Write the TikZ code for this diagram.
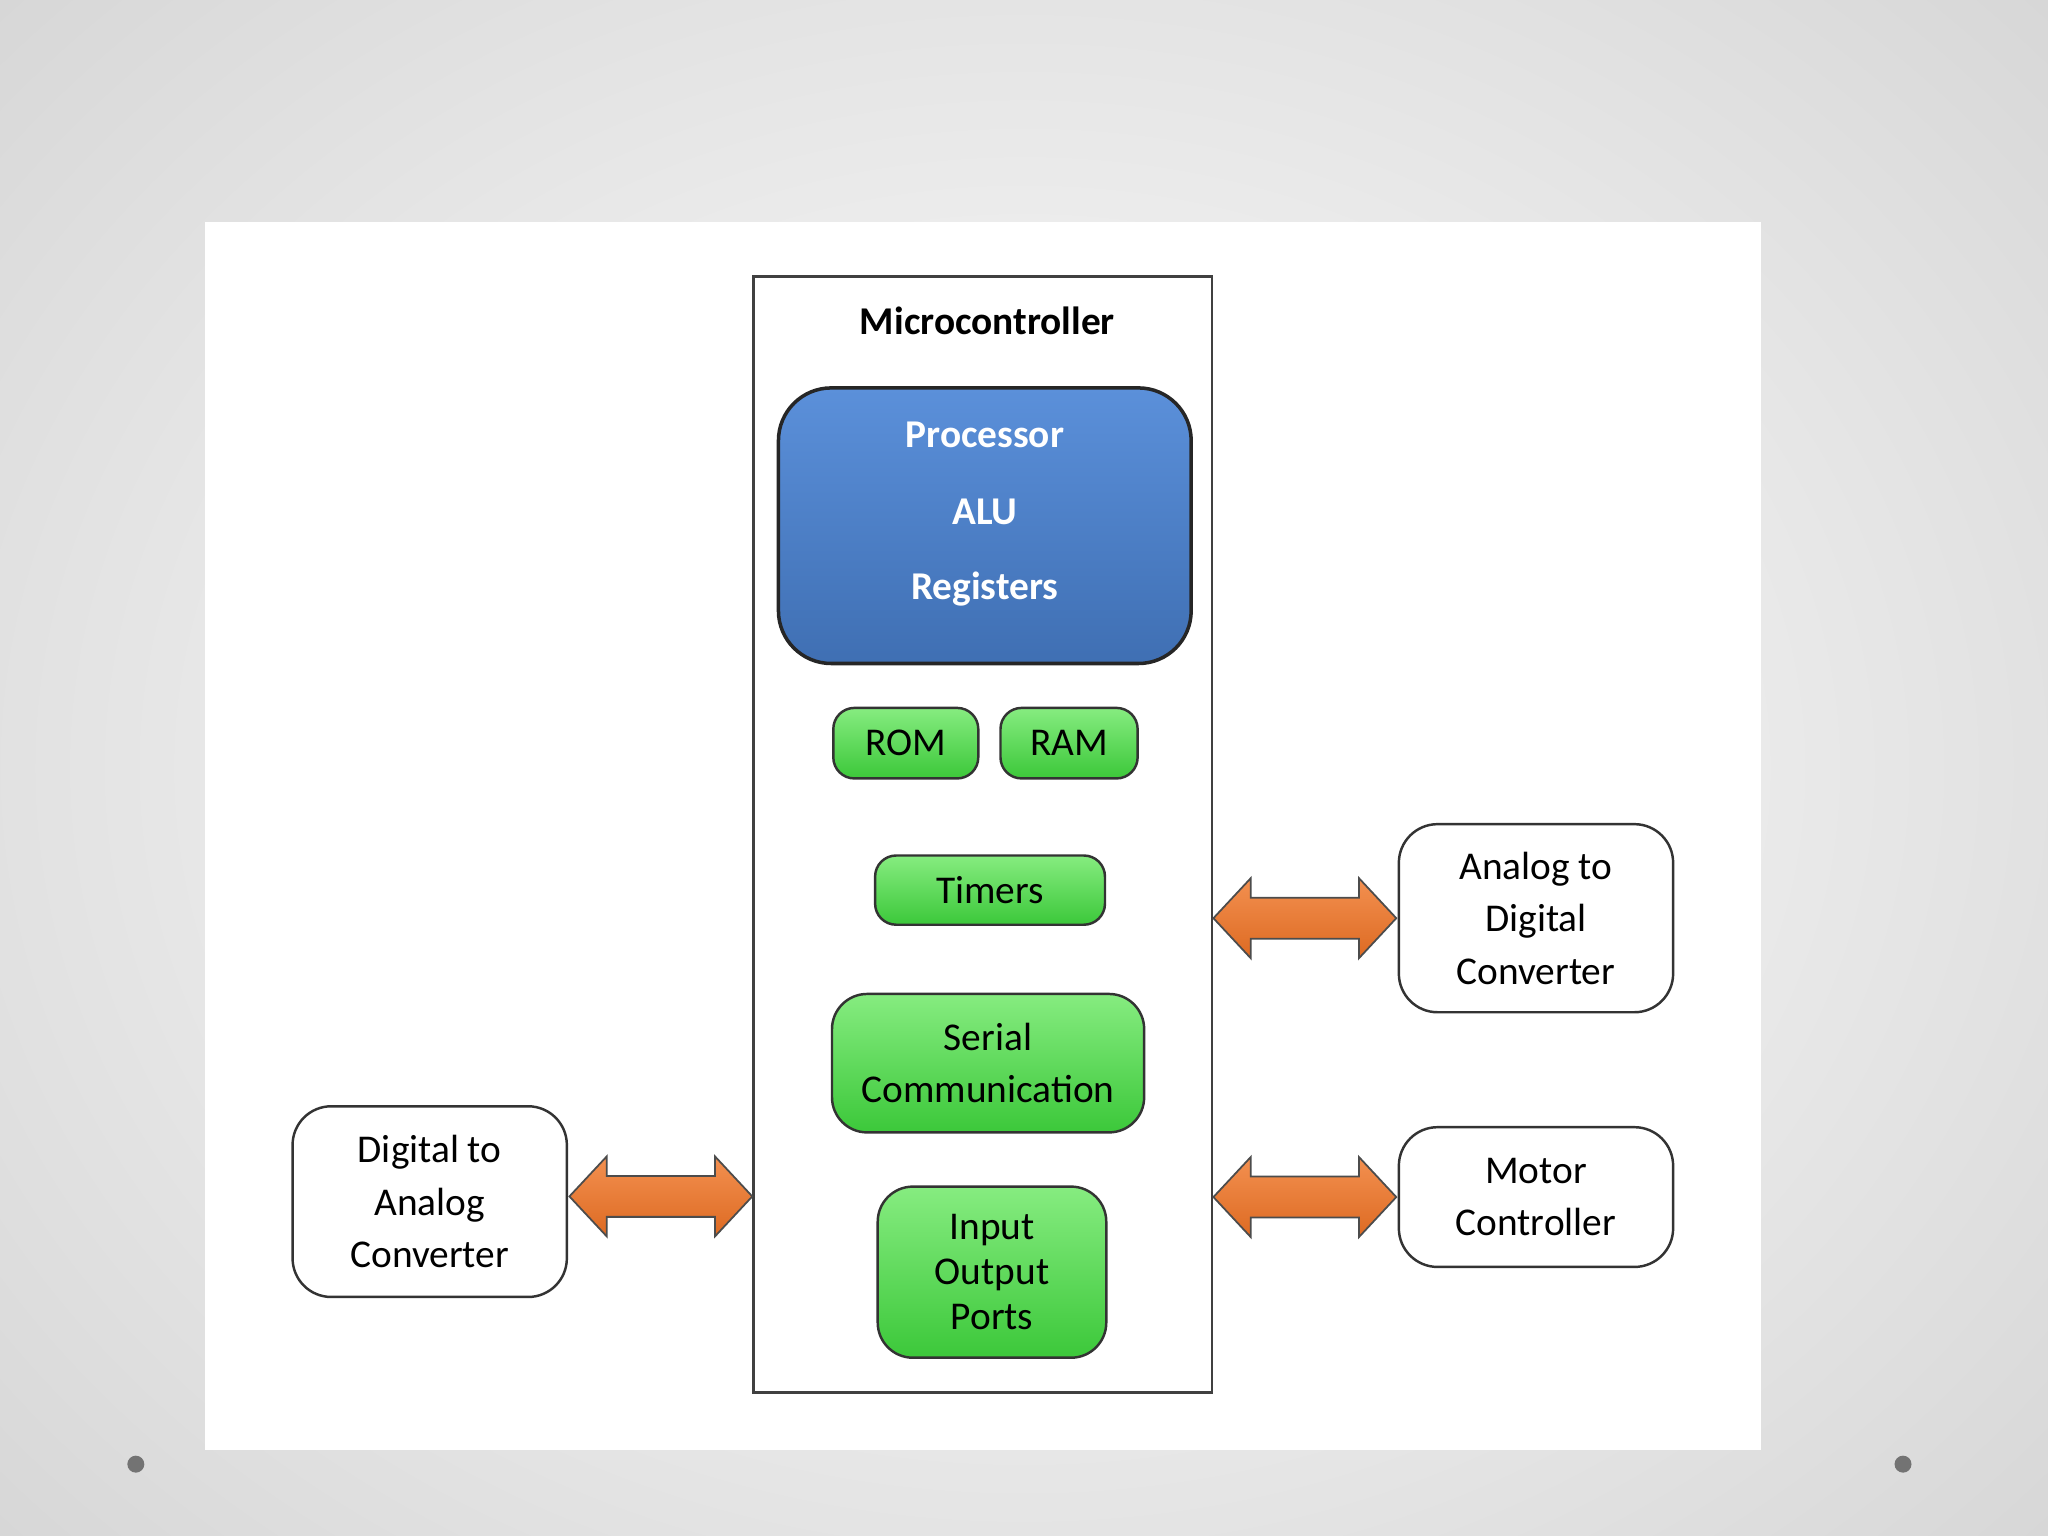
\documentclass[tikz,border=0pt]{standalone}
\usepackage{fontspec}
\setmainfont{Carlito}
\usetikzlibrary{shapes.arrows,calc}
\definecolor{gtop}{HTML}{86EC80}
\definecolor{gbot}{HTML}{3CC83A}
\definecolor{btop}{HTML}{5B90DA}
\definecolor{bbot}{HTML}{3F6FB3}
\definecolor{otop}{HTML}{F39050}
\definecolor{obot}{HTML}{DD6A22}
\begin{document}
\begin{tikzpicture}[x=0.013061cm,y=-0.013061cm,
  txt/.style={font=\fontsize{11.2pt}{14.9pt}\selectfont,align=center},
  green/.style={draw=black!80,line width=0.7pt,rounded corners=6pt,top color=gtop,bottom color=gbot,txt},
  ext/.style={draw=black!80,line width=0.7pt,rounded corners=14pt,fill=white,txt},
  arr/.style={double arrow,draw=black!70,line width=0.5pt,top color=otop,bottom color=obot,shading angle=0,
    minimum height=140*0.013061cm,inner xsep=0pt,inner ysep=15*0.013061cm,
    double arrow head extend=15*0.013061cm,double arrow tip angle=94,font=\fontsize{1pt}{1pt}\selectfont}]
\useasboundingbox (0,0) rectangle (1568,1176);
\shade[inner color=white,outer color=black!16] (-300,-300) rectangle (1868,1476);
\fill[white] (157,170) rectangle (1348,1110);
\fill[black!55] (104,1121) circle (6.5);
\fill[black!55] (1457,1121) circle (6.5);
\draw[black!75,line width=0.8pt] (577,212) rectangle (928,1066);
\coordinate (mcE) at (928,0);
\coordinate (mcW) at (577,0);
\node[txt,font=\fontsize{11.2pt}{14pt}\selectfont\bfseries] (title) at (756,246) {Microcontroller};
\node[draw=black!85,line width=1pt,rounded corners=15pt,top color=btop,bottom color=bbot,
  minimum width=316*0.013061cm,minimum height=211*0.013061cm] (proc) at (754,402.5) {};
\node[txt,text=white,font=\fontsize{11.2pt}{14pt}\selectfont\bfseries] at (754,333) {Processor};
\node[txt,text=white,font=\fontsize{11.2pt}{14pt}\selectfont\bfseries] at (754,392) {ALU};
\node[txt,text=white,font=\fontsize{11.2pt}{14pt}\selectfont\bfseries] at (754,451) {Registers};
\node[green,minimum width=111*0.013061cm,minimum height=54*0.013061cm] (rom) at (693.5,569) {ROM};
\node[green,minimum width=105*0.013061cm,minimum height=54*0.013061cm] (ram) at (818.5,569) {RAM};
\node[green,minimum width=176*0.013061cm,minimum height=53*0.013061cm] (tim) at (758,681.5) {Timers};
\node[green,rounded corners=10pt,minimum width=239*0.013061cm,minimum height=106*0.013061cm] (ser) at (756.5,814) {Serial\\Communication};
\node[green,rounded corners=10pt,minimum width=175*0.013061cm,minimum height=131*0.013061cm,
  font=\fontsize{11.2pt}{12.9pt}\selectfont] (io) at (759.5,974) {Input\\Output\\Ports};
\node[ext,rounded corners=11pt,minimum width=210*0.013061cm,minimum height=144*0.013061cm] (adc) at (1176,703) {Analog to\\Digital\\Converter};
\node[ext,rounded corners=11pt,minimum width=210*0.013061cm,minimum height=107*0.013061cm] (mot) at (1176,916.5) {Motor\\Controller};
\node[ext,rounded corners=11pt,minimum width=210*0.013061cm,minimum height=146*0.013061cm] (dac) at (329,920) {Digital to\\Analog\\Converter};
\node[arr] (a1) at ($(mcE |- adc.west)!0.5!(adc.west)$) {\phantom{}};
\node[arr] (a2) at ($(mcE |- mot.west)!0.5!(mot.west)$) {};
\node[arr] (a3) at ($(dac.east |- 0,916)!0.5!(mcW |- 0,916)$) {};
\end{tikzpicture}
\end{document}
